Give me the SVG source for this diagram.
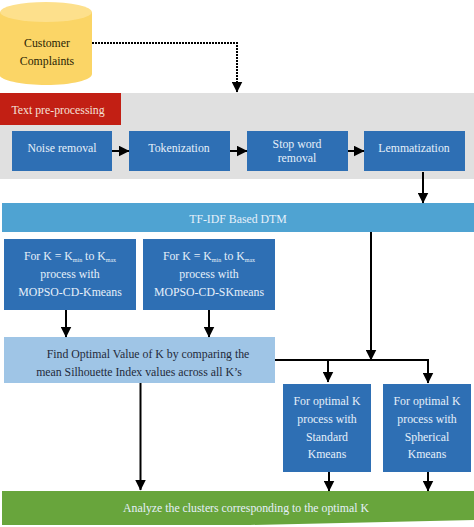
<svg xmlns="http://www.w3.org/2000/svg" width="474" height="527" viewBox="0 0 474 527">
<style>
text{font-family:"Liberation Serif","Times New Roman",serif;font-size:11.8px;text-anchor:middle}
.w{fill:#e6f0fa}.d{fill:#2a1f05}.k{fill:#1f2a3a}
.b{fill:#2e6fb4}
.c{fill:none;stroke:#000;stroke-width:2}
.s{font-size:6px}
</style>
<defs><marker id="a" viewBox="0 0 11 11" refX="10.500" refY="5.500" markerWidth="11" markerHeight="11" markerUnits="userSpaceOnUse" orient="auto"><path d="M0 0L11 5.500L0 11Z" fill="#000"/></marker></defs>
<rect width="474" height="527" fill="#fff"/>
<g id="customer-complaints"><path d="M-1 12V74C-1 80 20 85 46 85S92 80 92 74V12Z" fill="#fbd566"/><ellipse cx="46" cy="12" rx="46" ry="10" fill="#fde08c"/><text class="d" x="47" y="47">Customer</text><text class="d" x="47" y="65">Complaints</text></g>
<g id="text-pre-processing"><rect y="93" width="474" height="86" fill="#e0e0e0"/><rect y="93" width="121" height="32" fill="#c21f14"/><text x="58" y="114" style="fill:#f5e0d8">Text pre-processing</text></g>
<g id="noise-removal"><rect class="b" x="12" y="131" width="100" height="40"/><text class="w" x="62" y="152">Noise removal</text></g>
<g id="tokenization"><rect class="b" x="129" y="131" width="101" height="40"/><text class="w" x="179" y="152">Tokenization</text></g>
<g id="stop-word-removal"><rect class="b" x="247" y="131" width="101" height="40"/><text class="w" x="297" y="148">Stop word</text><text class="w" x="297" y="162">removal</text></g>
<g id="lemmatization"><rect class="b" x="364" y="131" width="101" height="40"/><text class="w" x="414" y="152">Lemmatization</text></g>
<g id="tf-idf"><rect x="2" y="203" width="472" height="29" fill="#4fa3d2"/><text class="w" x="238" y="223">TF-IDF Based DTM</text></g>
<g id="mopso-kmeans"><rect class="b" x="4" y="239" width="132" height="71"/><text class="w" x="70" y="260">For K = K<tspan class="s" dy="1.5">min</tspan><tspan dy="-1.5"> to K</tspan><tspan class="s" dy="1.5">max</tspan></text><text class="w" x="70" y="278">process with</text><text class="w" x="70" y="296">MOPSO-CD-Kmeans</text></g>
<g id="mopso-skmeans"><rect class="b" x="143" y="239" width="132" height="71"/><text class="w" x="209" y="260">For K = K<tspan class="s" dy="1.5">min</tspan><tspan dy="-1.5"> to K</tspan><tspan class="s" dy="1.5">max</tspan></text><text class="w" x="209" y="278">process with</text><text class="w" x="209" y="296">MOPSO-CD-SKmeans</text></g>
<g id="find-optimal"><rect x="4" y="337" width="271" height="46" fill="#9fc5e6"/><text class="k" x="148" y="358">Find Optimal Value of K by comparing the</text><text class="k" x="139" y="376">mean Silhouette Index values across all K’s</text></g>
<g id="standard-kmeans"><rect class="b" x="283" y="384" width="88" height="88"/><text class="w" x="327" y="405">For optimal K</text><text class="w" x="327" y="423">process with</text><text class="w" x="327" y="441">Standard</text><text class="w" x="327" y="458">Kmeans</text></g>
<g id="spherical-kmeans"><rect class="b" x="383" y="384" width="88" height="88"/><text class="w" x="427" y="405">For optimal K</text><text class="w" x="427" y="423">process with</text><text class="w" x="427" y="441">Spherical</text><text class="w" x="427" y="458">Kmeans</text></g>
<g id="analyze"><path d="M2 491H474V520L250 525H2Z" fill="#68a53c"/><text class="w" x="246" y="512">Analyze the clusters corresponding to the optimal K</text></g>
<g id="connectors">
<path d="M92 43H237V92" class="c" stroke-dasharray="2 1" marker-end="url(#a)"/>
<path d="M112 151H129" class="c" marker-end="url(#a)"/><path d="M230 151H247" class="c" marker-end="url(#a)"/><path d="M348 151H364" class="c" marker-end="url(#a)"/>
<path d="M423 172V203" class="c" marker-end="url(#a)"/>
<path d="M371 232V360" class="c" marker-end="url(#a)"/>
<path d="M66 310V337" class="c" marker-end="url(#a)"/><path d="M209 310V337" class="c" marker-end="url(#a)"/>
<path d="M275 360H328V382" class="c" marker-end="url(#a)"/><path d="M328 360H428V383" class="c" marker-end="url(#a)"/>
<path d="M140.500 383V490" class="c" marker-end="url(#a)"/>
<path d="M329 472V491" class="c" marker-end="url(#a)"/><path d="M428 472V491" class="c" marker-end="url(#a)"/>
</g>
</svg>
